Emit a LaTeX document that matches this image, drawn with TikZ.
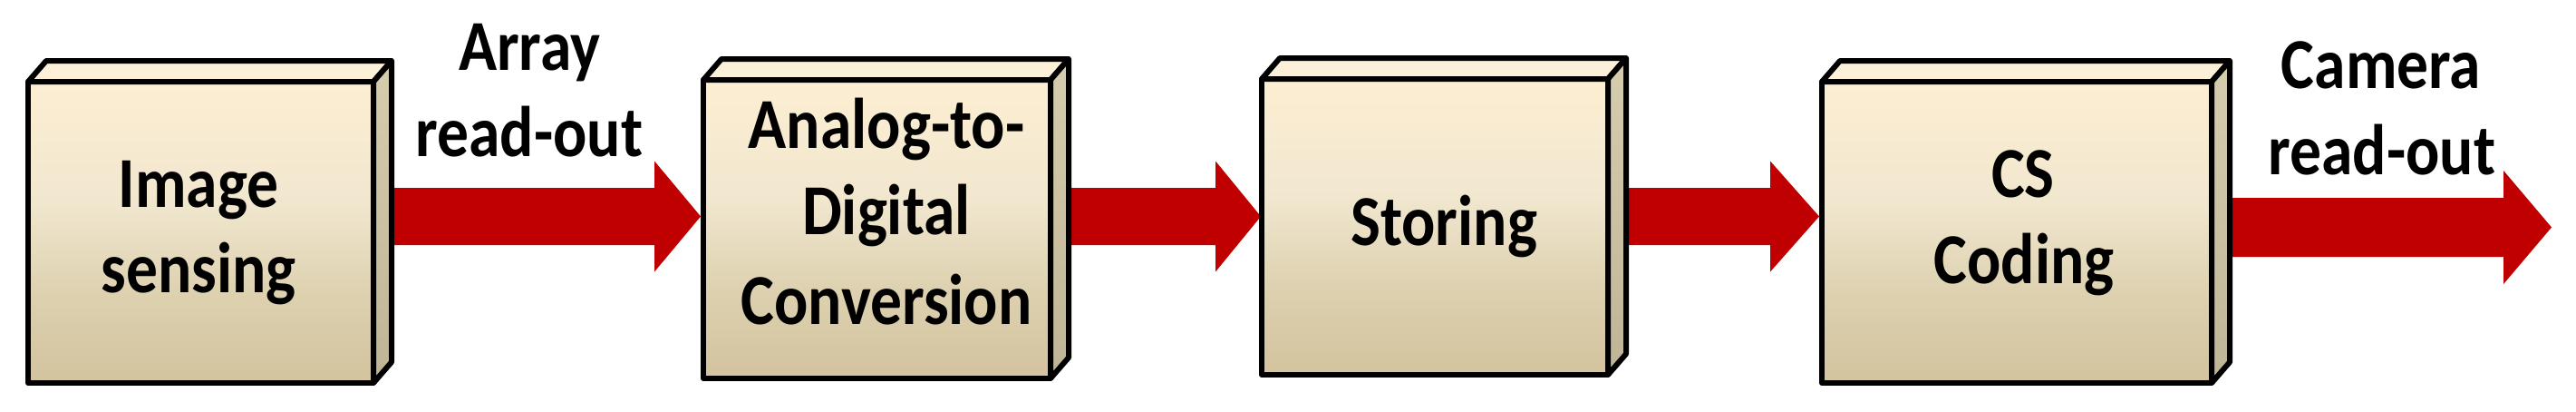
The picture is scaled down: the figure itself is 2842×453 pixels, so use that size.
\documentclass[tikz,border=0pt]{standalone}
\usepackage{fontspec}
\setmainfont{Carlito}[FakeStretch=0.88]
\usetikzlibrary{calc}
\definecolor{arrowc}{HTML}{C00000}
\definecolor{fbot}{HTML}{D3C39E}
\definecolor{fmida}{HTML}{DDD1B0}
\definecolor{fmidb}{HTML}{F1E7CF}
\definecolor{ftop}{HTML}{FCEED2}
\definecolor{topc}{HTML}{FCF1D8}
\definecolor{sidetop}{HTML}{D6CCAE}
\definecolor{sidebot}{HTML}{BFB496}
\pgfdeclareverticalshading{frontshade}{100bp}{color(0bp)=(fbot); color(25bp)=(fbot); color(40bp)=(fmida); color(55bp)=(fmidb); color(75bp)=(ftop); color(100bp)=(ftop)}
\newcommand\drawbox[1]{%
  \filldraw[face, fill=topc] (#1.north west) -- ++(20pt,23pt) -- ([shift={(20pt,23pt)}]#1.north east) -- (#1.north east) -- cycle;
  \filldraw[face, top color=sidetop, bottom color=sidebot] (#1.north east) -- ++(20pt,23pt) -- ([shift={(20pt,23pt)}]#1.south east) -- (#1.south east) -- cycle;
  \draw[face] (#1.north west) rectangle (#1.south east);
}
\newcommand\blockarrow[6]{%
  \fill[arrowc] let \p1=([xshift=15pt]#1.east), \p2=(#2), \p3=(0,#3) in
    (\x1,\y3+#4pt) -- (\x2-#6pt,\y3+#4pt) -- (\x2-#6pt,\y3+#5pt) -- (\x2,\y3)
    -- (\x2-#6pt,\y3-#5pt) -- (\x2-#6pt,\y3-#4pt) -- (\x1,\y3-#4pt) -- cycle;
}
\begin{document}
\begin{tikzpicture}[x=1pt,y=-1pt,
  frontbox/.style={shading=frontshade, outer sep=0pt, inner sep=0pt, rectangle},
  face/.style={draw=black, line width=6pt, line join=round},
  lbl/.style={font=\fontsize{79pt}{95pt}\selectfont\bfseries, inner sep=0pt, anchor=base, text=black}]
\useasboundingbox (0,0) rectangle (2842,453);
% box nodes (front faces)
\node[frontbox, minimum width=381pt, minimum height=332pt] (b1) at (221.5,256) {};
\node[frontbox, minimum width=383pt, minimum height=329pt] (b2) at (967.5,252.5) {};
\node[frontbox, minimum width=382pt, minimum height=326pt] (b3) at (1583,250) {};
\node[frontbox, minimum width=430pt, minimum height=332pt] (b4) at (2225,256) {};
\coordinate (out) at (2815,250.5);
% arrows
\blockarrow{b1}{[xshift=-3pt]b2.west}{238.5}{31.5}{61}{51}
\blockarrow{b2}{[xshift=-1pt]b3.west}{238.5}{31.5}{61}{50}
\blockarrow{b3}{[xshift=-3pt]b4.west}{238.5}{31.5}{61}{54}
\blockarrow{b4}{out}{250.5}{32.5}{62.5}{53}
% box faces and outlines
\drawbox{b1}
\drawbox{b2}
\drawbox{b3}
\drawbox{b4}
% texts
\node[lbl] (t1a) at (219,228) {Image};
\node[lbl] (t1b) at (219,322) {sensing};
\node[lbl] (t2a) at (978,163) {Analog-to-};
\node[lbl] (t2b) at (978,258) {Digital};
\node[lbl] (t2c) at (978,357) {Conversion};
\node[lbl] (t3a) at (1593,270) {Storing};
\node[lbl] (t4a) at (2232,217) {CS};
\node[lbl] (t4b) at (2233,312) {Coding};
\node[lbl] (l1a) at (584,77) {Array};
\node[lbl] (l1b) at (584,172) {read-out};
\node[lbl] (l2a) at (2627,97) {Camera};
\node[lbl] (l2b) at (2628,192) {read-out};
\end{tikzpicture}
\end{document}
